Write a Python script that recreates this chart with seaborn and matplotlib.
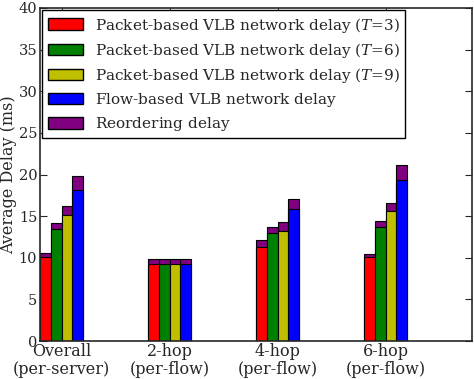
import pandas as pd
import matplotlib.pyplot as plt
import seaborn as sns
from matplotlib.patches import Patch

groups = ['Overall\n(per-server)', '2-hop\n(per-flow)', '4-hop\n(per-flow)', '6-hop\n(per-flow)']
schemes = ['Packet-based VLB network delay ($T$=3)',
           'Packet-based VLB network delay ($T$=6)',
           'Packet-based VLB network delay ($T$=9)',
           'Flow-based VLB network delay${}$']
# network delay per scheme (one value per group)
net_t3 = [10.1, 9.3, 11.3, 10.1]
net_t6 = [13.4, 9.3, 13.0, 13.7]
net_t9 = [15.2, 9.3, 13.2, 15.6]
net_flow = [18.1, 9.3, 15.9, 19.3]
# total delay = network + reordering
tot_t3 = [10.6, 9.8, 12.1, 10.4]
tot_t6 = [14.2, 9.8, 13.7, 14.4]
tot_t9 = [16.2, 9.8, 14.3, 16.6]
tot_flow = [19.8, 9.8, 17.1, 21.2]

colors = ['#ff0000', '#008000', '#bfbf00', '#0000ff']
purple = '#800080'

rows = []
for s, net, tot in zip(schemes, [net_t3, net_t6, net_t9, net_flow], [tot_t3, tot_t6, tot_t9, tot_flow]):
    for g, n, t in zip(groups, net, tot):
        rows.append({'group': g, 'scheme': s, 'net': n, 'total': t})
df = pd.DataFrame(rows)

sns.set_style('ticks')
plt.rcParams['font.family'] = ['DejaVu Serif']
plt.rcParams['mathtext.fontset'] = 'dejavuserif'

fig, ax = plt.subplots(figsize=(4.74, 3.79), dpi=100)

# reordering delay on top: draw total first in purple, then network delay over it
sns.barplot(data=df, x='group', y='total', hue='scheme', hue_order=schemes,
            palette=[purple] * 4, width=0.4, gap=0, edgecolor='black', linewidth=0.8,
            saturation=1, legend=False, ax=ax)
sns.barplot(data=df, x='group', y='net', hue='scheme', hue_order=schemes,
            palette=colors, width=0.4, gap=0, edgecolor='black', linewidth=0.8,
            saturation=1, legend=False, ax=ax)

ax.set_xlim(-0.2, 3.8)
ax.set_ylim(0, 40)
ax.set_yticks(range(0, 41, 5))
ax.set_xlabel('')
ax.set_ylabel('Average Delay (ms)', fontsize=11.5, labelpad=1)
ax.tick_params(direction='in', top=True, right=True, length=5, pad=2)
ax.tick_params(axis='y', labelsize=10.5)
ax.tick_params(axis='x', labelsize=11.5, pad=1.5)
for t in ax.get_xticklabels():
    t.set_linespacing(1.1)
for sp in ax.spines.values():
    sp.set_linewidth(1.2)

handles = [Patch(facecolor=c, edgecolor='black') for c in colors] + [Patch(facecolor=purple, edgecolor='black')]
labels = schemes + ['Reordering delay${}$']
ax.legend(handles, labels, loc='upper left', fontsize=11, fancybox=False, framealpha=1,
          edgecolor='black', borderaxespad=0.15, handlelength=2.3, handleheight=0.8,
          handletextpad=0.8, labelspacing=0.4, borderpad=0.35)

plt.subplots_adjust(left=0.0844, right=0.996, top=0.979, bottom=0.1)
fig.savefig('out.png', dpi=100)
